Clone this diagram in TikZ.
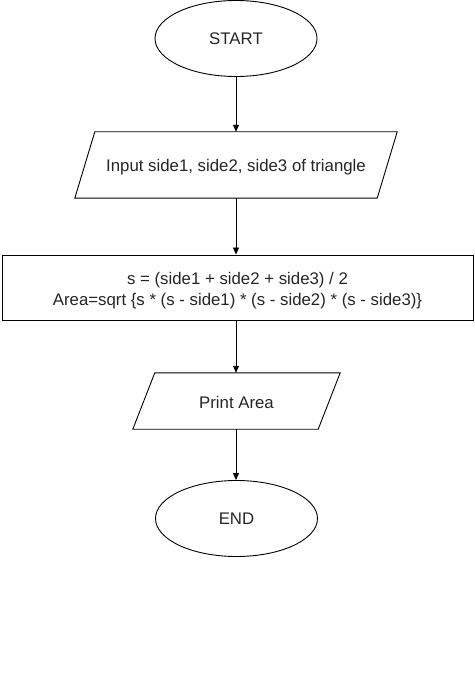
\documentclass[tikz,border=0pt]{standalone}
\usepackage{fontspec}
\setmainfont{Liberation Sans}
\usetikzlibrary{shapes.geometric,arrows.meta}
\begin{document}
\begin{tikzpicture}[x=1pt,y=-1pt,
  every node/.style={font=\fontsize{16.8}{21}\selectfont, text=black!85},
  term/.style={draw, ellipse, line width=0.9pt, minimum width=162pt, minimum height=76pt, inner sep=0pt},
  iobox/.style={rectangle, inner sep=0pt},
  outline/.style={line width=0.9pt, line join=miter},
  proc/.style={draw, rectangle, line width=0.9pt, minimum width=471pt, minimum height=65pt, inner sep=0pt},
  txt/.style={inner sep=0pt, align=center},
  flow/.style={-{Triangle[length=7pt,width=6pt]}, line width=0.9pt}]
\useasboundingbox[fill=white] (0,0) rectangle (474,684);
\node[term] (start) at (236,38.5) {START};
\node[iobox, minimum width=322pt, minimum height=66pt] (input) at (236,165) {};
\draw[outline] ([xshift=20pt]input.north west) -- (input.north east) -- ([xshift=-20pt]input.south east) -- (input.south west) -- cycle;
\node[txt] (inputtext) at (236,167.5) {Input side1, side2, side3 of triangle};
\node[proc] (calc) at (237.5,287.5) {};
\node[txt] (calctext) at (237.5,291) {s = (side1 + side2 + side3) / 2\\Area=sqrt \{s * (s - side1) * (s - side2) * (s - side3)\}};
\node[iobox, minimum width=207pt, minimum height=56pt] (print) at (236.5,401) {};
\draw[outline] ([xshift=22pt]print.north west) -- (print.north east) -- ([xshift=-22pt]print.south east) -- (print.south west) -- cycle;
\node[txt] (printtext) at (236.5,402) {Print Area};
\node[term] (end) at (236.5,518.5) {END};
\draw[flow] (start.south) -- (start.south |- input.north);
\draw[flow] (start.south |- input.south) -- (start.south |- calc.north);
\draw[flow] (start.south |- calc.south) -- (start.south |- print.north);
\draw[flow] (start.south |- print.south) -- (start.south |- end.north);
\end{tikzpicture}
\end{document}
